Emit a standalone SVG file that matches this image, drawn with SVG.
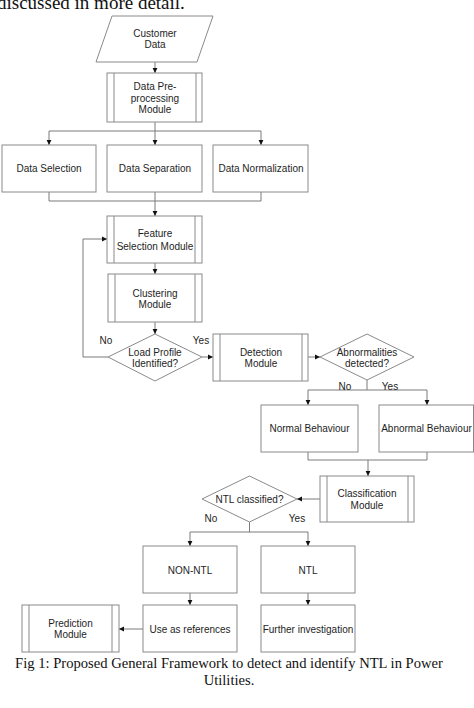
<svg xmlns="http://www.w3.org/2000/svg" width="474" height="708" viewBox="0 0 474 708">
<defs>
<style>
.b{fill:#fff;stroke:#8a8a8a;stroke-width:1}
.il{stroke:#8a8a8a;stroke-width:1}
.t{font-family:"Liberation Sans",Arial,sans-serif;font-size:10px;fill:#1e1e1e;text-anchor:middle}
.c{fill:none;stroke:#7a7a7a;stroke-width:1}
.p{font-family:"Liberation Serif","Times New Roman",serif;fill:#111}
</style>
<marker id="ah" markerWidth="6" markerHeight="6" refX="5" refY="3" orient="auto" markerUnits="userSpaceOnUse">
<path d="M0,0.6 L5,3 L0,5.4 Z" fill="#111"/>
</marker>
</defs>
<rect width="474" height="708" fill="#fff"/>
<text class="p" x="-3" y="8.5" font-size="19">discussed in more detail.</text>

<g id="connectors">
<path class="c" d="M155,62 V73" marker-end="url(#ah)"/>
<path class="c" d="M155,122 V131 M49,131 H261"/>
<path class="c" d="M49,131 V145" marker-end="url(#ah)"/>
<path class="c" d="M155,131 V145" marker-end="url(#ah)"/>
<path class="c" d="M261,131 V145" marker-end="url(#ah)"/>
<path class="c" d="M49,192 V201 H261 V192"/>
<path class="c" d="M155,192 V216" marker-end="url(#ah)"/>
<path class="c" d="M155,263 V274" marker-end="url(#ah)"/>
<path class="c" d="M155,322 V334" marker-end="url(#ah)"/>
<path class="c" d="M108,357 H83 V239 H107" marker-end="url(#ah)"/>
<path class="c" d="M202,357 H213" marker-end="url(#ah)"/>
<path class="c" d="M308,357 H320" marker-end="url(#ah)"/>
<path class="c" d="M367,380 V390 M308,390 H427"/>
<path class="c" d="M308,390 V405" marker-end="url(#ah)"/>
<path class="c" d="M427,390 V405" marker-end="url(#ah)"/>
<path class="c" d="M308,452 V460 H427 V452"/>
<path class="c" d="M368,460 V476" marker-end="url(#ah)"/>
<path class="c" d="M320,499 H297" marker-end="url(#ah)"/>
<path class="c" d="M249.5,522 V532 M190,532 H308"/>
<path class="c" d="M190,532 V546" marker-end="url(#ah)"/>
<path class="c" d="M308,532 V546" marker-end="url(#ah)"/>
<path class="c" d="M190,593 V605" marker-end="url(#ah)"/>
<path class="c" d="M308,593 V605" marker-end="url(#ah)"/>
<path class="c" d="M143,629 H119" marker-end="url(#ah)"/>
<text class="t" x="106" y="343.5">No</text>
<text class="t" x="201" y="343.5">Yes</text>
<text class="t" x="345" y="389.5">No</text>
<text class="t" x="390" y="389.5">Yes</text>
<text class="t" x="211" y="521.5">No</text>
<text class="t" x="297" y="521.5">Yes</text>
</g>

<g id="customer-data">
<polygon class="b" points="112,16 213,16 197,62 96,62"/>
<text class="t" x="155" y="36.5">Customer</text>
<text class="t" x="155" y="47.5">Data</text>
</g>
<g id="preprocessing">
<rect class="b" x="107" y="73" width="95" height="49"/>
<line class="il" x1="114" y1="73" x2="114" y2="122"/><line class="il" x1="196" y1="73" x2="196" y2="122"/>
<text class="t" x="155" y="89.5">Data Pre-</text>
<text class="t" x="155" y="101.5">processing</text>
<text class="t" x="155" y="112.5">Module</text>
</g>
<g id="data-selection">
<rect class="b" x="2" y="145" width="94" height="47"/>
<text class="t" x="49" y="171.5">Data Selection</text>
</g>
<g id="data-separation">
<rect class="b" x="107" y="145" width="95" height="47"/>
<text class="t" x="155" y="171.5">Data Separation</text>
</g>
<g id="data-normalization">
<rect class="b" x="213" y="145" width="95" height="47"/>
<text class="t" x="261" y="171.5">Data Normalization</text>
</g>
<g id="feature-selection">
<rect class="b" x="107" y="216" width="95" height="47"/>
<line class="il" x1="114" y1="216" x2="114" y2="263"/><line class="il" x1="195" y1="216" x2="195" y2="263"/>
<text class="t" x="155" y="236.5">Feature</text>
<text class="t" x="155" y="249.5">Selection Module</text>
</g>
<g id="clustering">
<rect class="b" x="108" y="274" width="94" height="48"/>
<line class="il" x1="115" y1="274" x2="115" y2="322"/><line class="il" x1="195" y1="274" x2="195" y2="322"/>
<text class="t" x="155" y="296.5">Clustering</text>
<text class="t" x="155" y="307.5">Module</text>
</g>
<g id="load-profile">
<polygon class="b" points="108,357 155,334 202,357 155,381"/>
<text class="t" x="155" y="355.5">Load Profile</text>
<text class="t" x="155" y="366.5">Identified?</text>
</g>
<g id="detection">
<rect class="b" x="213" y="334" width="95" height="47"/>
<line class="il" x1="220" y1="334" x2="220" y2="381"/><line class="il" x1="302" y1="334" x2="302" y2="381"/>
<text class="t" x="261" y="355.5">Detection</text>
<text class="t" x="261" y="366.5">Module</text>
</g>
<g id="abnormalities">
<polygon class="b" points="320,357 367,334 414,357 367,380"/>
<text class="t" x="367" y="355.5">Abnormalities</text>
<text class="t" x="367" y="366.5">detected?</text>
</g>
<g id="normal-behaviour">
<rect class="b" x="261" y="405" width="97" height="47"/>
<text class="t" x="309.5" y="431.5">Normal Behaviour</text>
</g>
<g id="abnormal-behaviour">
<rect class="b" x="379" y="405" width="94.5" height="47"/>
<text class="t" x="426.5" y="431.5">Abnormal Behaviour</text>
</g>
<g id="classification">
<rect class="b" x="320" y="476" width="94" height="46"/>
<line class="il" x1="327" y1="476" x2="327" y2="522"/><line class="il" x1="408" y1="476" x2="408" y2="522"/>
<text class="t" x="367" y="496.5">Classification</text>
<text class="t" x="367" y="508.5">Module</text>
</g>
<g id="ntl-classified">
<polygon class="b" points="202,499 249.5,476 297,499 249.5,522"/>
<text class="t" x="249.5" y="502.5">NTL classified?</text>
</g>
<g id="non-ntl">
<rect class="b" x="143" y="546" width="94" height="47"/>
<text class="t" x="190" y="573.5">NON-NTL</text>
</g>
<g id="ntl">
<rect class="b" x="261" y="546" width="94" height="47"/>
<text class="t" x="308" y="573.5">NTL</text>
</g>
<g id="use-as-references">
<rect class="b" x="143" y="605" width="94" height="47"/>
<text class="t" x="190" y="632.5">Use as references</text>
</g>
<g id="further-investigation">
<rect class="b" x="261" y="605" width="94" height="47"/>
<text class="t" x="308" y="632.5">Further investigation</text>
</g>
<g id="prediction">
<rect class="b" x="22" y="605" width="97" height="47"/>
<line class="il" x1="29" y1="605" x2="29" y2="652"/><line class="il" x1="112" y1="605" x2="112" y2="652"/>
<text class="t" x="70.5" y="626.5">Prediction</text>
<text class="t" x="70.5" y="637.5">Module</text>
</g>
<text class="p" x="229" y="668" font-size="14.6" text-anchor="middle">Fig 1: Proposed General Framework to detect and identify NTL in Power</text>
<text class="p" x="229" y="685" font-size="14.6" text-anchor="middle">Utilities.</text>
</svg>
